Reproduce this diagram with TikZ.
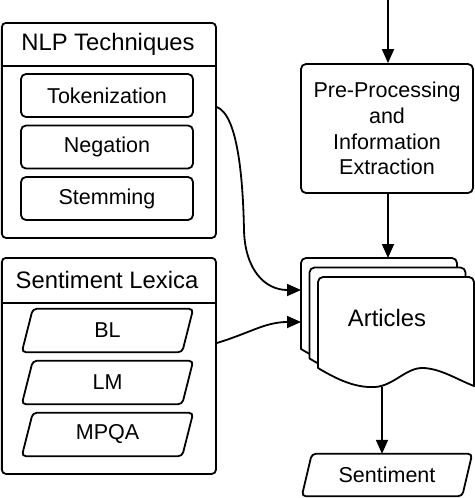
\documentclass[tikz,border=0pt]{standalone}
\usepackage{fontspec}
\setmainfont{Liberation Sans}
\usetikzlibrary{calc,arrows.meta}
\newcommand\artpage[2]{%
  \draw[pg] (#1,#2+91) -- (#1,#2+5) arc(180:270:5) -- (#1+151,#2) arc(270:360:5) -- (#1+156,#2+109)
    .. controls (#1+140,#2+103) and (#1+122,#2+91) .. (#1+104,#2+91)
    .. controls (#1+88,#2+91) and (#1+75,#2+109) .. (#1+57,#2+110)
    .. controls (#1+38,#2+111) and (#1+20,#2+103) .. cycle;}
\begin{document}
\begin{tikzpicture}[x=1pt,y=-1pt,
  every node/.style={font=\fontsize{21.5}{25.7}\selectfont},
  big/.style={font=\fontsize{23.8}{28}\selectfont},
  lw/.style={line width=1.8pt},
  container/.style={draw,lw,rounded corners=4,minimum width=214,minimum height=215,anchor=north west,inner sep=0},
  inbox/.style={draw,lw,rounded corners=5,minimum width=172,minimum height=43,inner sep=0},
  paratext/.style={minimum width=160,minimum height=43,inner sep=0},
  pg/.style={lw,fill=white,line join=round},
  arr/.style={lw,-{Triangle[length=14pt,width=12pt]}},
  procbox/.style={draw,lw,rounded corners=5,minimum width=172,minimum height=129,align=center,inner sep=0}
]
\useasboundingbox (0,0) rectangle (474,498);

% NLP Techniques container
\node[container] (nlpbox) at (1,22) {};
\draw[lw] (nlpbox.west |- 0,66) -- (nlpbox.east |- 0,66);
\node[big] (nlph) at (108,44) {NLP Techniques};
\node[inbox] (tok) at (107,95.5) {Tokenization};
\node[inbox] (neg) at (107,147) {Negation};
\node[inbox] (stem) at (107,198.5) {Stemming};

% Sentiment Lexica container
\node[container,minimum height=216] (lexbox) at (1,257) {};
\draw[lw] (lexbox.west |- 0,303) -- (lexbox.east |- 0,303);
\node[big] (lexh) at (107,280) {Sentiment Lexica};
\foreach \n/\y/\t in {bl/330.5/BL, lm/382.5/LM, mpqa/434.5/MPQA}{
  \node[paratext] (\n) at (107.5,\y) {\t};
  \draw[lw,rounded corners=4] ([xshift=-5.5pt]\n.south west) -- ([xshift=5.5pt]\n.north west)
     -- ([xshift=5.5pt]\n.north east) -- ([xshift=-5.5pt]\n.south east) -- cycle;
}

% Pre-processing
\coordinate (topin) at (388,-2);
\node[procbox] (pre) at (387,128.5) {Pre-Processing\\and\\Information\\Extraction};

% Articles
\artpage{301}{258}
\artpage{309.5}{267.5}
\artpage{318}{277}
\node[minimum width=156,minimum height=110,anchor=north west,inner sep=0] (arts) at (301,258) {};
\node[big] (artxt) at (387,318) {Articles};
\coordinate (artbot) at (382,387);

% Sentiment
\node[paratext,minimum height=42] (sent) at (387,475) {Sentiment};
\draw[lw,rounded corners=4] ([xshift=-5pt]sent.south west) -- ([xshift=5pt]sent.north west)
   -- ([xshift=5pt]sent.north east) -- ([xshift=-5pt]sent.south east) -- cycle;

% connectors
\draw[arr] (topin) -- (pre.north -| topin);
\draw[arr] (pre.south -| topin) -- (topin |- arts.north);
\draw[arr] (artbot) -- (artbot |- sent.north);
\coordinate (a1) at ($(arts.north west)+(0,32)$);
\coordinate (a2) at ($(arts.north west)+(0,64)$);
\coordinate (n1) at (nlpbox.east |- 0,107);
\coordinate (l1) at (lexbox.east |- 0,343);
\draw[arr] (n1) .. controls (238,115) and (243,180) .. (244,230)
   .. controls (245,270) and (265,290) .. (a1);
\draw[arr] (l1) .. controls (250,333) and (265,322) .. (a2);
\end{tikzpicture}
\end{document}
